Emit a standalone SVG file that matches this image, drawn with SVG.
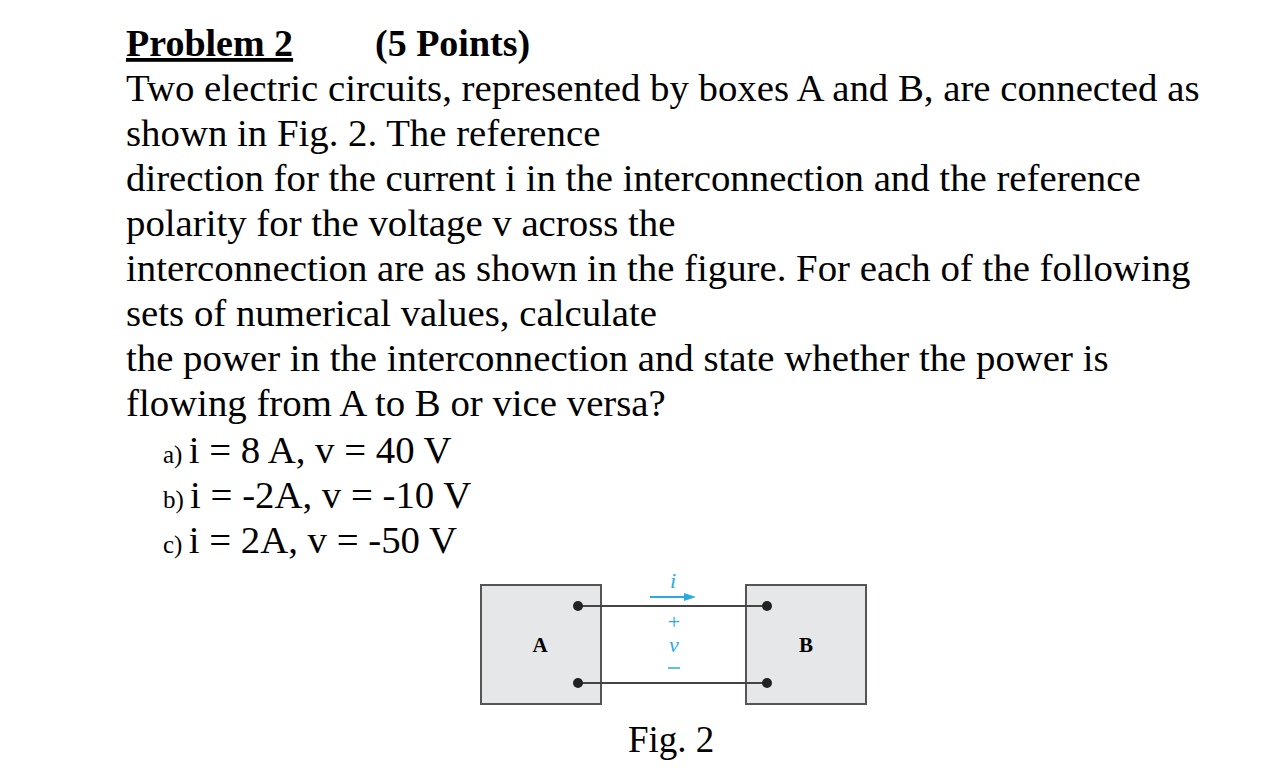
<svg xmlns="http://www.w3.org/2000/svg" width="1284" height="773" viewBox="0 0 1284 773">
<style>
text{font-family:"Liberation Serif","Times New Roman",serif;fill:#000}
.b{font-size:38.8px}
.s{font-size:25px}
.box{fill:#e6e7e9;stroke:#555;stroke-width:2}
.w{stroke:#444;stroke-width:2}
.c{fill:#29abe2;font-style:italic}
</style>
<rect width="1284" height="773" fill="#fff"/>
<g id="text">
<text x="126" y="56" font-size="38" font-weight="bold" text-decoration="underline">Problem 2</text>
<text x="375" y="56" font-size="38" font-weight="bold">(5 Points)</text>
<text class="b" x="126" y="101">Two electric circuits, represented by boxes A and B, are connected as</text>
<text class="b" x="126" y="146">shown in Fig. 2. The reference</text>
<text class="b" x="126" y="191">direction for the current i in the interconnection and the reference</text>
<text class="b" x="126" y="236">polarity for the voltage v across the</text>
<text class="b" x="126" y="281">interconnection are as shown in the figure. For each of the following</text>
<text class="b" x="126" y="326">sets of numerical values, calculate</text>
<text class="b" x="126" y="371">the power in the interconnection and state whether the power is</text>
<text class="b" x="126" y="416">flowing from A to B or vice versa?</text>
<text x="163" y="463"><tspan class="s">a) </tspan><tspan class="b">i = 8 A, v = 40 V</tspan></text>
<text x="163" y="508"><tspan class="s">b) </tspan><tspan class="b">i = -2A, v = -10 V</tspan></text>
<text x="163" y="553"><tspan class="s">c) </tspan><tspan class="b">i = 2A, v = -50 V</tspan></text>
<text x="628" y="752" font-size="37">Fig. 2</text>
</g>
<g id="boxA"><rect class="box" x="481" y="585" width="120" height="119"/><text x="540" y="652" font-size="21" font-weight="bold" text-anchor="middle" fill="#333">A</text></g>
<g id="boxB"><rect class="box" x="746" y="585" width="120" height="119"/><text x="806" y="652" font-size="21" font-weight="bold" text-anchor="middle" fill="#333">B</text></g>
<g id="connectors">
<line class="w" x1="578" y1="606" x2="767" y2="606"/>
<line class="w" x1="578" y1="683" x2="767" y2="683"/>
<circle cx="578" cy="606" r="5" fill="#222"/><circle cx="767" cy="606" r="5" fill="#222"/>
<circle cx="578" cy="683" r="5" fill="#222"/><circle cx="767" cy="683" r="5" fill="#222"/>
<line x1="650" y1="597" x2="688" y2="597" stroke="#29abe2" stroke-width="2"/>
<polygon points="696,597 684,593 684,601" fill="#29abe2"/>
<text class="c" x="673" y="588" font-size="22" text-anchor="middle">i</text>
<text x="674" y="629" font-size="22" text-anchor="middle" style="fill:#29abe2">+</text>
<text class="c" x="674" y="652" font-size="22" text-anchor="middle">v</text>
<line x1="668" y1="668" x2="680" y2="668" stroke="#29abe2" stroke-width="1.5"/>
</g>
</svg>
